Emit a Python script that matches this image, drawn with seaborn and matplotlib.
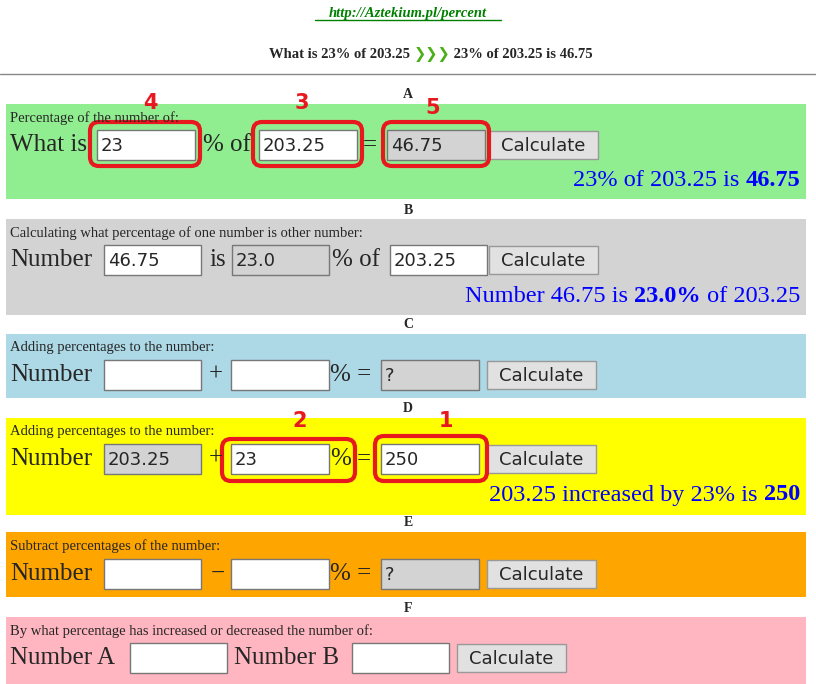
import matplotlib
matplotlib.use("Agg")
import matplotlib.pyplot as plt
from matplotlib.patches import Rectangle, FancyBboxPatch
import seaborn as sns

sns.set_theme(style="white")
plt.rcParams['font.family'] = ['Liberation Serif', 'DejaVu Serif']

section_letters = ["A", "B", "C", "D", "E", "F"]
panel_colors = ["#90EE90", "#D3D3D3", "#ADD8E6", "#FFFF00", "#FFA500", "#FFB6C1"]
panel_labels = ["Percentage of the number of:",
                "Calculating what percentage of one number is other number:",
                "Adding percentages to the number:",
                "Adding percentages to the number:",
                "Subtract percentages of the number:",
                "By what percentage has increased or decreased the number of:"]
panel_tops = [104, 219, 334, 418, 532, 617]
panel_bottoms = [199, 315, 398, 515, 597, 684]
results = [("23% of 203.25 is ", "46.75", ""),
           ("Number 46.75 is ", "23.0%", " of 203.25"),
           None,
           ("203.25 increased by 23% is ", "250", ""),
           None, None]
marker_numbers = ["4", "3", "5", "2", "1"]

fig = plt.figure(figsize=(8.16, 6.84), dpi=100)
ax = fig.add_axes([0, 0, 1, 1])
ax.set_xlim(0, 816)
ax.set_ylim(684, 0)
ax.axis("off")

BLUE = "#0000FF"
ax.text(408, 14, "http://Aztekium.pl/percent", ha="center", va="center", color="#008000",
        fontsize=10.5, fontweight="bold", fontstyle="italic")
ax.plot([315, 501], [20, 20], color="#008000", lw=1)

fig.canvas.draw()
r = fig.canvas.get_renderer()
inv = ax.transData.inverted()


def chain_right(x, y, parts, **kw):
    """Draw parts right-to-left ending at x; parts = list of (text, props)."""
    for txt, props in reversed(parts):
        if not txt:
            continue
        t = ax.text(x, y, txt, ha="right", va="center", **kw, **props)
        bb = t.get_window_extent(r)
        x = inv.transform((bb.x0, bb.y0))[0]
    return x


chain_right(593, 54, [("What is 23% of 203.25 ", {}),
                      ("\u276F\u276F\u276F", {"color": "#4CAF1A", "family": ["DejaVu Sans"]}),
                      (" 23% of 203.25 is 46.75", {})],
            fontsize=10.5, fontweight="bold")
ax.plot([0, 816], [74, 74], color="#888888", lw=1)


def box(x0, x1, yc, text, fill="white"):
    ax.add_patch(Rectangle((x0, yc - 15), x1 - x0, 30, facecolor=fill, edgecolor="#777777", lw=1))
    ax.text(x0 + 4, yc + 1, text, ha="left", va="center", fontsize=13, family="DejaVu Sans")


def button(x0, x1, yc):
    ax.add_patch(Rectangle((x0, yc - 14), x1 - x0, 28, facecolor="#E1E1E1", edgecolor="#999999", lw=1))
    ax.text((x0 + x1) / 2, yc + 1, "Calculate", ha="center", va="center", fontsize=13, family="DejaVu Sans")


def big(x, y, t):
    ax.text(x, y, t, ha="left", va="center", fontsize=18)


for i, L in enumerate(section_letters):
    ax.text(408, panel_tops[i] - 9, L, ha="center", va="center", fontsize=10, fontweight="bold")
    ax.add_patch(Rectangle((6, panel_tops[i]), 800, panel_bottoms[i] - panel_tops[i],
                           facecolor=panel_colors[i], edgecolor="none"))
    ax.text(10, panel_tops[i] + 14, panel_labels[i], ha="left", va="center", fontsize=10.5)

GR = "#D3D3D3"
# A
y = 145
big(10, y, "What is"); box(97, 195, y, "23"); big(202, y, "%"); big(230, y, "of")
box(259, 357, y, "203.25"); big(363, y, "="); box(387, 485, y, "46.75", GR); button(489, 598, y)
# B
y = 260
big(10, y, "Number"); box(104, 201, y, "46.75"); big(209, y, "is"); box(232, 329, y, "23.0", GR)
big(332, y, "% of"); box(390, 487, y, "203.25"); button(489, 598, y)
# C
y = 375
big(10, y, "Number"); box(104, 201, y, ""); big(209, y, "+"); box(231, 329, y, "")
big(330, y, "% ="); box(381, 479, y, "?", GR); button(487, 596, y)
# D
y = 459
big(10, y, "Number"); box(104, 201, y, "203.25", GR); big(209, y, "+"); box(231, 329, y, "23")
big(330, y, "%"); big(357, y, "="); box(381, 479, y, "250"); button(487, 596, y)
# E
y = 574
big(10, y, "Number"); box(104, 201, y, ""); big(211, y, "\u2212"); box(231, 329, y, "")
big(330, y, "% ="); box(381, 479, y, "?", GR); button(487, 596, y)
# F
y = 658
big(10, y, "Number A"); box(130, 227, y, ""); big(234, y, "Number B"); box(352, 449, y, "")
button(457, 566, y)

# results
res_y = [181, 297, None, 495, None, None]
for i, res in enumerate(results):
    if res is None:
        continue
    pre, bold, post = res
    chain_right(800, res_y[i], [(pre, {}), (bold, {"fontweight": "bold"}), (post, {})],
                fontsize=17.5, color=BLUE)

# red annotations
ann_boxes = [(90, 200, 122, 166), (253, 362, 122, 166), (383, 489, 122, 166),
             (222, 355, 439, 481), (375, 487, 436, 481)]
ann_pos = [(150, 103), (302, 103), (433, 108), (300, 421), (446, 421)]
for (x0, x1, y0, y1), (nx, ny), n in zip(ann_boxes, ann_pos, marker_numbers):
    ax.add_patch(FancyBboxPatch((x0, y0), x1 - x0, y1 - y0, boxstyle="round,pad=0,rounding_size=9",
                                facecolor="none", edgecolor="#E8191E", lw=3))
    ax.text(nx, ny, n, ha="center", va="center", color="#E8191E", fontsize=15,
            fontweight="bold", family="DejaVu Sans")

fig.savefig("out.png", dpi=100)
